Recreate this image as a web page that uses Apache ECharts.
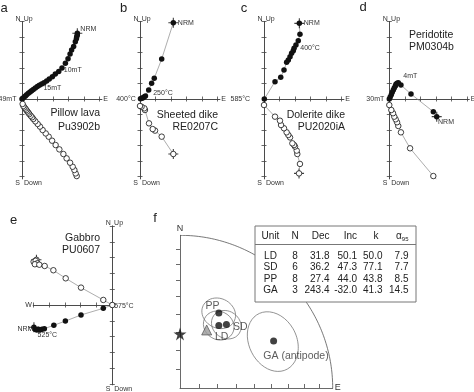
<!DOCTYPE html>
<html><head><meta charset="utf-8">
<script src="https://cdn.jsdelivr.net/npm/echarts@6/dist/echarts.min.js"></script>
<style>html,body{margin:0;padding:0;background:#fff}#c{width:474px;height:392px}</style>
</head><body><div id="c"></div>
<script>
// ---------------- data ----------------
// Zijderveld diagrams: filled = horizontal projection, open = vertical projection (NRM first)
const aFilled = [[3.57,4.24],[3.57,4.13],[3.53,4.02],[3.51,3.89],[3.44,3.70],[3.33,3.38],[3.20,3.16],[3.10,2.90],[2.97,2.60],[2.80,2.30],[2.58,2.00],[2.37,1.78],[2.15,1.61],[1.96,1.44],[1.76,1.29],[1.59,1.16],[1.42,1.05],[1.27,0.97],[1.12,0.88],[0.99,0.80],[0.86,0.71],[0.73,0.62],[0.62,0.54],[0.52,0.45],[0.41,0.37],[0.30,0.28],[0.22,0.19],[0.13,0.11],[0.04,0.04],[0,0]];
const aOpen = [[3.57,-5.23],[3.53,-4.97],[3.46,-4.80],[3.38,-4.58],[3.27,-4.37],[3.10,-4.11],[2.88,-3.83],[2.67,-3.55],[2.41,-3.25],[2.17,-2.97],[1.94,-2.69],[1.72,-2.43],[1.53,-2.22],[1.33,-2.00],[1.16,-1.78],[1.01,-1.61],[0.86,-1.44],[0.73,-1.29],[0.65,-1.18],[0.56,-1.08],[0.47,-0.97],[0.41,-0.88],[0.34,-0.80],[0.28,-0.71],[0.22,-0.62],[0.15,-0.54],[0.09,-0.45],[0.04,-0.32]];
const bFilled = [[2.15,4.92],[1.40,2.58],[0.92,1.34],[0.75,1.01],[0.56,0.58],[0.35,0.20],[0.28,0.14],[0.20,0.08],[0.12,0.05],[0.03,0.02]];
const bOpen = [[2.15,-3.55],[1.40,-2.43],[0.97,-2.04],[0.82,-1.94],[0.58,-1.57],[0.32,-0.71],[0.28,-0.60],[0.10,-0.50],[0,-0.45]];
const cFilled = [[2.28,4.88],[2.32,4.17],[2.21,3.76],[2.06,3.48],[1.94,3.27],[1.89,3.12],[1.78,2.95],[1.68,2.73],[1.57,2.52],[1.46,2.37],[1.29,1.87],[1.08,1.40],[0.71,1.12],[0.02,0]];
const cOpen = [[2.26,-4.80],[2.32,-4.19],[2.15,-3.55],[2.11,-3.33],[2.00,-3.07],[1.94,-2.97],[1.83,-2.86],[1.68,-2.48],[1.57,-2.32],[1.46,-2.15],[1.29,-1.89],[1.10,-1.68],[1.03,-1.40],[0.71,-1.14],[0,-0.39]];
const dFilled = [[3.06,-1.14],[2.84,-0.82],[1.40,0.32],[0.75,0.90],[0.58,1.05],[0.50,1.01],[0.43,0.95],[0.39,0.84],[0.32,0.71],[0.26,0.58],[0.19,0.43],[0.13,0.28],[0.06,0.13],[0,0]];
const dOpen = [[3.06,-5.20],[2.84,-4.97],[1.34,-3.18],[0.75,-2.15],[0.58,-1.74],[0.50,-1.50],[0.41,-1.31],[0.32,-1.14],[0.24,-0.92],[0.13,-0.71],[0,-0.39]];
const eFilled = [[-4.96,-1.41],[-4.89,-1.54],[-4.78,-1.58],[-4.68,-1.54],[-4.58,-1.58],[-4.45,-1.54],[-4.30,-1.50],[-3.70,-1.28],[-2.97,-1.02],[-1.98,-0.63],[-0.57,-0.21],[0,0]];
const eOpen = [[-4.80,2.86],[-4.98,2.74],[-4.85,2.80],[-4.75,2.64],[-4.90,2.58],[-4.62,2.55],[-4.28,2.47],[-3.73,2.20],[-2.95,1.69],[-1.98,1.10],[-0.57,0.32],[0,0]];

// Panel f: site means (table) and reference directions
const fUnits = ['LD','SD','PP','GA'];
const fN = [8,6,8,3];
const fDec = [31.8,36.2,27.4,243.4];
const fInc = [50.1,47.3,44.0,-32.0];
const fK = [50.0,77.1,43.8,41.3];
const fA95 = [7.9,7.7,8.5,14.5];
const fPlotLabels = ['LD','SD','PP','GA (antipode)'];
const starDir = [0, 61.0];
const triDir = [24.7, 55.6];
const netIncTicks = [10,20,30,40,50,60,70,80];
const zTicksY = [-5,-4,-3,-2,-1,1,2,3,4,5];
const zTicksXpos = [1,2,3,4,5];
const zTicksXneg = [-1,-2,-3,-4,-5];

// ---------------- helpers ----------------
const FONT = "'Liberation Sans', Arial, Helvetica, sans-serif";
const rad = Math.PI / 180;
const AX = '#444';
function eaProj(dec, inc) {
  const r = Math.SQRT2 * Math.sin((90 - inc) * rad / 2);
  return [r * Math.sin(dec * rad), r * Math.cos(dec * rad)];
}
function lowerDir(dec, inc) { return inc < 0 ? [dec + 180, -inc] : [dec, inc]; }
function smallCircle(dec, inc, a) {
  const D = dec * rad, I = inc * rad, A = a * rad;
  const m = [Math.cos(I) * Math.cos(D), Math.cos(I) * Math.sin(D), Math.sin(I)];
  const u = [-Math.sin(I) * Math.cos(D), -Math.sin(I) * Math.sin(D), Math.cos(I)];
  const v = [-Math.sin(D), Math.cos(D), 0];
  const pts = [];
  for (let t = 0; t <= 360; t += 4) {
    const T = t * rad;
    const p = [0, 1, 2].map(k => Math.cos(A) * m[k] + Math.sin(A) * (Math.cos(T) * u[k] + Math.sin(T) * v[k]));
    const r = Math.sqrt(Math.max(0, 1 - p[2]));
    const h = Math.hypot(p[0], p[1]);
    pts.push([r * p[1] / h, r * p[0] / h]);
  }
  return pts;
}
const SYM = 5.5;
function lbl(text, dx, dy, s, opt) {
  opt = opt || {};
  return {show: true, formatter: text, position: [s / 2 + dx, s / 2 + dy],
    align: opt.align || 'center', verticalAlign: 'middle',
    fontSize: opt.fontSize || 7, color: opt.color || '#333', fontFamily: FONT};
}
function withLabels(arr, labs, which, s, fs) {
  return arr.map((pt, i) => {
    const L = labs.find(l => l.s === which && (l.i === i || (l.i === -1 && i === arr.length - 1)));
    if (!L) return pt;
    return {value: pt, label: lbl(L.t, L.dx, L.dy, s, {align: L.align, fontSize: fs})};
  });
}
const PLUS = 'path://M0,4.45H10V5.55H0Z M4.45,0H5.55V10H4.45Z';
const STAR = 'path://M50,0L61.2,34.5L97.6,34.5L68.2,55.9L79.4,90.5L50,69.1L20.6,90.5L31.8,55.9L2.4,34.5L38.8,34.5Z';

const grids = [], xAxes = [], yAxes = [], series = [];
const g = [];
function txt(x, y, text, size, align, extra) {
  g.push({type: 'text', x: x, y: y, z: 60, silent: true,
    style: Object.assign({text: text, fill: '#222', fontSize: size, fontFamily: FONT, align: align || 'left', verticalAlign: 'middle'}, extra || {})});
}

function addZ(p) {
  const gi = grids.length;
  const top = p.oy - p.yr[1] * p.u, bottom = p.oy - p.yr[0] * p.u;
  grids.push({left: p.ox + p.xr[0] * p.u, top: top,
    width: (p.xr[1] - p.xr[0]) * p.u, height: (p.yr[1] - p.yr[0]) * p.u,
    containLabel: false, outerBoundsMode: 'none', show: false});
  const xi = xAxes.length, yi = yAxes.length;
  const tk = (inside, vals) => ({show: true, inside: inside, length: 2.5, customValues: vals, lineStyle: {color: AX, width: 0.8}});
  const base = {type: 'value', gridIndex: gi, axisLabel: {show: false}, splitLine: {show: false}};
  [false, true].forEach((ins, k) => {
    xAxes.push(Object.assign({}, base, {min: p.xr[0], max: p.xr[1], position: 'bottom',
      axisLine: {show: true, onZero: true, onZeroAxisIndex: yi, lineStyle: {color: AX, width: 0.8}},
      axisTick: tk(ins, p.xTicks),
      name: k === 0 ? p.xName : '', nameLocation: p.xNameLoc, nameGap: 1.5,
      nameTextStyle: {fontSize: 7, fontFamily: FONT, color: '#333', verticalAlign: 'middle', padding: p.xNamePad}}));
    yAxes.push(Object.assign({}, base, {min: p.yr[0], max: p.yr[1], position: 'left',
      axisLine: {show: true, onZero: true, onZeroAxisIndex: xi, lineStyle: {color: AX, width: 0.8}},
      axisTick: tk(ins, zTicksY)}));
  });
  // axis end names (N / Up at top, S / Down at bottom), flanking the vertical axis
  const ax0 = p.ox;
  txt(ax0 - 1.5, top - 2.5, 'N', 7, 'right', {fill: '#333'});
  txt(ax0 + 1.8, top - 2.5, 'Up', 7, 'left', {fill: '#333'});
  txt(ax0 - 2, bottom + 4.5, 'S', 7, 'right', {fill: '#333'});
  txt(ax0 + 2, bottom + 4.5, 'Down', 7, 'left', {fill: '#333'});
  series.push({type: 'line', xAxisIndex: xi, yAxisIndex: yi, data: withLabels(p.filled, p.labels, 'f', SYM),
    symbol: 'circle', symbolSize: SYM, showAllSymbol: true, itemStyle: {color: '#111'},
    lineStyle: {color: '#8a8a8a', width: 0.7}, label: {show: false}, z: 3, animation: false});
  series.push({type: 'scatter', xAxisIndex: xi, yAxisIndex: yi, data: [p.filled[0], p.open[0]],
    symbol: PLUS, symbolSize: 10, itemStyle: {color: '#111'}, z: 3.5, animation: false, silent: true});
  series.push({type: 'line', xAxisIndex: xi, yAxisIndex: yi, data: withLabels(p.open, p.labels, 'o', SYM),
    symbol: 'circle', symbolSize: SYM, showAllSymbol: true,
    itemStyle: {color: '#fff', borderColor: '#111', borderWidth: 0.8},
    lineStyle: {color: '#8a8a8a', width: 0.7}, label: {show: false}, z: 4, animation: false});
}

const posBase = {oy: 99, u: 15.5, xr: [0, 5.15], yr: [-5.15, 5], xName: 'E', xNameLoc: 'end', xNamePad: [0, 0, 3, 0], xTicks: zTicksXpos};
addZ(Object.assign({}, posBase, {ox: 22, filled: aFilled, open: aOpen, labels: [
  {s: 'f', i: 0, t: 'NRM', dx: 11, dy: -4}, {s: 'f', i: 11, t: '10mT', dx: 14, dy: -1.5},
  {s: 'f', i: 18, t: '15mT', dx: 13, dy: 3}, {s: 'f', i: -1, t: '49mT', dx: -14.5, dy: 0}]}));
addZ(Object.assign({}, posBase, {ox: 140, filled: bFilled, open: bOpen, labels: [
  {s: 'f', i: 0, t: 'NRM', dx: 12.5, dy: 0}, {s: 'f', i: 4, t: '250°C', dx: 14.3, dy: 3.3},
  {s: 'f', i: -1, t: '400°C', dx: -14.5, dy: 0.3}]}));
addZ(Object.assign({}, posBase, {ox: 264, filled: cFilled, open: cOpen, labels: [
  {s: 'f', i: 0, t: 'NRM', dx: 12.4, dy: 0}, {s: 'f', i: 4, t: '400°C', dx: 16, dy: 0},
  {s: 'f', i: -1, t: '585°C', dx: -24, dy: 0}]}));
addZ(Object.assign({}, posBase, {ox: 389.3, filled: dFilled, open: dOpen, labels: [
  {s: 'f', i: 4, t: '4mT', dx: 12, dy: -6.7}, {s: 'f', i: 0, t: 'NRM', dx: 9.3, dy: 5},
  {s: 'f', i: -1, t: '30mT', dx: -14, dy: 0}]}));
addZ({ox: 112.3, oy: 305, u: 15.8, xr: [-5, 0], yr: [-5.05, 5], xName: 'W', xNameLoc: 'start', xNamePad: [0, 0, 8, 0], xTicks: zTicksXneg,
  filled: eFilled, open: eOpen, labels: [
  {s: 'f', i: 0, t: 'NRM', dx: -8.5, dy: 1.5}, {s: 'f', i: 6, t: '525°C', dx: 3, dy: 6.3},
  {s: 'o', i: -1, t: '575°C', dx: 12, dy: 1}]});

// ---------------- panel f: equal-area net ----------------
(function () {
  const gi = grids.length;
  const R = 152.7;
  grids.push({left: 180, top: 388 - R, width: R, height: R, containLabel: false, outerBoundsMode: 'none', show: false});
  const xi = xAxes.length, yi = yAxes.length;
  const tickR = netIncTicks.map(i => Math.SQRT2 * Math.sin((90 - i) * rad / 2));
  xAxes.push({type: 'value', gridIndex: gi, min: 0, max: 1, position: 'bottom',
    axisLine: {show: true, onZero: false, lineStyle: {color: AX, width: 0.8}},
    axisTick: {show: true, inside: true, length: 4, customValues: tickR, lineStyle: {color: AX, width: 0.8}},
    axisLabel: {show: false}, splitLine: {show: false},
    name: 'E', nameLocation: 'end', nameGap: 2,
    nameTextStyle: {fontSize: 9, fontFamily: FONT, color: '#333', verticalAlign: 'middle', padding: [0, 0, 14, 0]}});
  yAxes.push({type: 'value', gridIndex: gi, min: 0, max: 1, position: 'left',
    axisLine: {show: true, onZero: false, lineStyle: {color: AX, width: 0.8}},
    axisTick: {show: true, inside: false, length: 4, customValues: tickR, lineStyle: {color: AX, width: 0.8}},
    axisLabel: {show: false}, splitLine: {show: false},
    name: 'N', nameLocation: 'end', nameGap: 2,
    nameTextStyle: {fontSize: 9, fontFamily: FONT, color: '#333'}});
  const arc = [];
  for (let d = 0; d <= 90; d += 1) arc.push([Math.sin(d * rad), Math.cos(d * rad)]);
  series.push({type: 'line', xAxisIndex: xi, yAxisIndex: yi, data: arc, symbol: 'none',
    lineStyle: {color: '#555', width: 0.8}, z: 1, animation: false, silent: true});
  fUnits.forEach((u, k) => {
    const dir = lowerDir(fDec[k], fInc[k]);
    series.push({type: 'line', xAxisIndex: xi, yAxisIndex: yi, data: smallCircle(dir[0], dir[1], fA95[k]),
      symbol: 'none', lineStyle: {color: '#777', width: 0.8}, z: 2, animation: false, silent: true});
  });
  const labOff = [
    {dx: 2.9, dy: 11.3}, {dx: 13.9, dy: 2.1}, {dx: -6.3, dy: -7}, {dx: -10.3, dy: 14.7, align: 'left'}];
  const meanData = fUnits.map((u, k) => {
    const dir = lowerDir(fDec[k], fInc[k]);
    const L = labOff[k];
    return {value: eaProj(dir[0], dir[1]), label: lbl(fPlotLabels[k], L.dx, L.dy, 7, {align: L.align, fontSize: 10.5, color: '#333'})};
  });
  series.push({type: 'scatter', xAxisIndex: xi, yAxisIndex: yi, data: meanData, symbol: 'circle', symbolSize: 7,
    itemStyle: {color: '#111'}, z: 5, animation: false});
  series.push({type: 'scatter', xAxisIndex: xi, yAxisIndex: yi, data: [eaProj(starDir[0], starDir[1])], symbol: STAR, symbolSize: 13,
    itemStyle: {color: '#111'}, z: 6, animation: false});
  series.push({type: 'scatter', xAxisIndex: xi, yAxisIndex: yi, data: [eaProj(triDir[0], triDir[1])], symbol: 'triangle', symbolSize: 10,
    itemStyle: {color: '#9a9a9a', borderColor: '#444', borderWidth: 0.8}, z: 4, animation: false});
})();

// ---------------- text / table (graphic) ----------------
[['a', 4, 8], ['b', 123.5, 8], ['c', 244, 8.5], ['d', 363, 7], ['e', 13.5, 220], ['f', 155, 218]].forEach(l => txt(l[1], l[2], l[0], 13, 'center'));
txt(100, 113, 'Pillow lava', 10.5, 'right'); txt(100, 127, 'Pu3902b', 10.5, 'right');
txt(218, 115, 'Sheeted dike', 10.5, 'right'); txt(218, 127, 'RE0207C', 10.5, 'right');
txt(345, 115, 'Dolerite dike', 10.5, 'right'); txt(345, 127, 'PU2020iA', 10.5, 'right');
txt(409, 35, 'Peridotite', 10.5, 'left'); txt(409, 47, 'PM0304b', 10.5, 'left');
txt(100, 238, 'Gabbro', 10.5, 'right'); txt(100, 250, 'PU0607', 10.5, 'right');
// table
g.push({type: 'rect', z: 50, silent: true, shape: {x: 255, y: 226, width: 161, height: 76},
  style: {fill: '#fff', stroke: '#777', lineWidth: 1}});
g.push({type: 'line', z: 51, silent: true, shape: {x1: 255, y1: 244.5, x2: 416, y2: 244.5}, style: {stroke: '#777', lineWidth: 1}});
const TF = 10;
const hy = 236;
txt(270.5, hy, 'Unit', TF, 'center'); txt(295, hy, 'N', TF, 'center'); txt(329.5, hy, 'Dec', TF, 'right');
txt(357, hy, 'Inc', TF, 'right'); txt(376, hy, 'k', TF, 'center');
txt(408.5, hy, '{a|α}{s|95}', TF, 'right', {rich: {a: {fontSize: 10, fontFamily: FONT, fill: '#222', lineHeight: 12},
  s: {fontSize: 6, fontFamily: FONT, fill: '#222', verticalAlign: 'bottom', lineHeight: 6}}});
const rowY = [256, 267.5, 279, 290.5];
fUnits.forEach((u, k) => {
  const y = rowY[k];
  txt(270.5, y, u, TF, 'center');
  txt(295, y, String(fN[k]), TF, 'center');
  txt(329.5, y, fDec[k].toFixed(1), TF, 'right');
  txt(357, y, fInc[k].toFixed(1), TF, 'right');
  txt(382.5, y, fK[k].toFixed(1), TF, 'right');
  txt(408.5, y, fA95[k].toFixed(1), TF, 'right');
});

const chart = echarts.init(document.getElementById('c'), null, {renderer: 'canvas'});
chart.setOption({animation: false, backgroundColor: '#fff', grid: grids, xAxis: xAxes, yAxis: yAxes, series: series, graphic: {elements: g}});
</script></body></html>
